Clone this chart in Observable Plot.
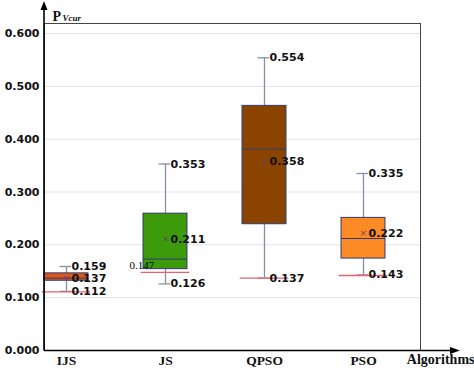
<!DOCTYPE html>
<html><head><meta charset="utf-8">
<script src="https://cdn.jsdelivr.net/npm/d3@7"></script>
<script src="https://cdn.jsdelivr.net/npm/@observablehq/plot@0.6"></script>
<style>body{margin:0;background:#fff}</style>
</head><body><div id="chart"></div>
<script>
const algorithms = ["IJS", "JS", "QPSO", "PSO"];
const whiskerMin = [0.112, 0.126, 0.137, 0.143];
const q1 = [0.132, 0.154, 0.239, 0.174];
const median = [0.137, 0.173, 0.381, 0.212];
const q3 = [0.146, 0.259, 0.463, 0.251];
const whiskerMax = [0.159, 0.353, 0.554, 0.335];
const mean = [0.137, 0.211, 0.358, 0.222];
const bestLine = [0.111, 0.148, 0.137, 0.142];
const fills = ["#d9581c", "#3d9b0b", "#8b4400", "#fd8b25"];
const yTicks = [0, 0.1, 0.2, 0.3, 0.4, 0.5, 0.6];
const jsNote = {i: 1, value: 0.147, label: "0.147"};

const rows = algorithms.map((name, i) => ({
  name, i, min: whiskerMin[i], q1: q1[i], median: median[i], q3: q3[i],
  max: whiskerMax[i], mean: mean[i], best: bestLine[i], fill: fills[i]
}));

const fmt = d3.format(".3f");
const bw = 0.222;
const labelFont = {fontFamily: "DejaVu Sans", fontWeight: "bold", fontSize: 11, fill: "#111", textAnchor: "start", dx: 5};

function axes(index, scales, values, dims) {
  const {marginLeft: l, marginBottom: b, height: h} = dims;
  const y0 = h - b;
  const g = d3.create("svg:g");
  g.append("line").attr("x1", l).attr("x2", l).attr("y1", y0 + 0.5).attr("y2", 8)
    .attr("stroke", "#000").attr("stroke-width", 1.6);
  g.append("path").attr("d", `M${l - 3.5},10L${l},1L${l + 3.5},10Z`).attr("fill", "#000");
  g.append("line").attr("x1", l).attr("x2", 452).attr("y1", y0 + 0.5).attr("y2", y0 + 0.5)
    .attr("stroke", "#000").attr("stroke-width", 1.6);
  g.append("path").attr("d", `M450,${y0 - 3}L460,${y0 + 0.5}L450,${y0 + 4}Z`).attr("fill", "#000");
  return g.node();
}

const chart = Plot.plot({
  width: 474,
  height: 370,
  marginLeft: 44,
  marginRight: 54,
  marginTop: 23,
  marginBottom: 20,
  style: {fontFamily: "DejaVu Sans", background: "#fff"},
  x: {type: "linear", domain: [-0.5, 3.5], range: [16.5, 412.5], axis: null},
  y: {domain: [0, 0.6], range: [350, 33], axis: null},
  marks: [
    Plot.ruleY(yTicks.slice(1), {stroke: "#e3e3e3", strokeWidth: 1}),
    Plot.frame({stroke: "#444", strokeWidth: 1}),
    Plot.axisY(yTicks, {tickSize: 0, tickPadding: 5, tickFormat: fmt, label: null,
      fontWeight: "bold", fontSize: 11, fontFamily: "DejaVu Sans", fill: "#111"}),
    Plot.axisX([0, 1, 2, 3], {tickSize: 0, tickPadding: 5, tickFormat: i => algorithms[i], label: null,
      fontWeight: "bold", fontSize: 13.5, fontFamily: "Liberation Serif", fill: "#111"}),
    // whiskers
    Plot.ruleX(rows, {x: "i", y1: "min", y2: "q1", stroke: "#8290a8", strokeWidth: 1.3}),
    Plot.ruleX(rows, {x: "i", y1: "q3", y2: "max", stroke: "#8290a8", strokeWidth: 1.3}),
    Plot.ruleY(rows, {y: "max", x1: d => d.i - 0.065, x2: d => d.i + 0.05, stroke: "#8290a8", strokeWidth: 1.3}),
    Plot.ruleY(rows, {y: "min", x1: d => d.i - 0.065, x2: d => d.i + 0.05, stroke: "#8290a8", strokeWidth: 1.3}),
    // boxes
    Plot.rect(rows, {x1: d => d.i - bw, x2: d => d.i + bw, y1: "q1", y2: "q3", fill: "fill", stroke: "#2f3b73", strokeWidth: 1}),
    Plot.ruleY(rows, {y: "median", x1: d => d.i - bw, x2: d => d.i + bw, stroke: "#2f3b73", strokeWidth: 1}),
    // red best lines
    Plot.ruleY(rows, {y: "best", x1: d => d.i - 0.245, x2: d => d.i + 0.245, stroke: "#e8606a", strokeWidth: 1.3}),
    // mean markers
    Plot.dot(rows, {x: "i", y: "mean", symbol: "times", r: 2.2, stroke: "#6a3a70", strokeWidth: 1}),
    // labels
    Plot.text(rows, {x: "i", y: "max", text: d => fmt(d.max), ...labelFont}),
    Plot.text(rows, {x: "i", y: "min", text: d => fmt(d.min), ...labelFont}),
    Plot.text(rows, {x: "i", y: "mean", text: d => fmt(d.mean), ...labelFont}),
    Plot.text([jsNote], {x: "i", y: "value", text: "label", dx: -36, dy: -7, textAnchor: "start",
      fontFamily: "Liberation Serif", fontSize: 11, fill: "#000"}),
    // titles
    Plot.text(["P"], {frameAnchor: "top-left", dx: 8, dy: -12, textAnchor: "start",
      fontFamily: "Liberation Serif", fontWeight: "bold", fontSize: 14, fill: "#111"}),
    Plot.text(["Vcur"], {frameAnchor: "top-left", dx: 18, dy: -9, textAnchor: "start",
      fontFamily: "Liberation Serif", fontWeight: "bold", fontStyle: "italic", fontSize: 9, fill: "#111"}),
    Plot.text(["Algorithms"], {frameAnchor: "bottom-right", dx: 54, dy: 13, textAnchor: "end",
      fontFamily: "Liberation Serif", fontWeight: "bold", fontSize: 14, fill: "#111"}),
    axes
  ]
});
document.getElementById("chart").appendChild(chart);
</script>
</body></html>
